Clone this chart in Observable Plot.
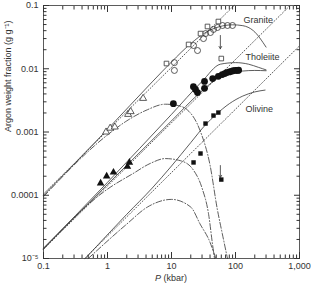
<!DOCTYPE html>
<html><head><meta charset="utf-8">
<script src="https://cdn.jsdelivr.net/npm/d3@7"></script>
<script src="https://cdn.jsdelivr.net/npm/@observablehq/plot@0.6"></script>
<style>
body{margin:0;background:#fff;}
#chart{width:312px;height:286px;}
</style>
</head><body><div id="chart"></div>
<script>
// ---- data: [P (kbar), Ar weight fraction] ----
const graniteSolid = [[0.1,1e-4],[1,1.1e-3],[5,6.2e-3],[10,0.0128],[20,0.025],[35,0.038],[55,0.046],[90,0.0495],[130,0.048],[190,0.040],[300,0.022]];
const graniteDotted = [[0.1,1.05e-4],[95,0.1]];
const graniteDashDot = [[0.1,9.5e-5],[1,9e-4],[2,1.5e-3],[4,2.2e-3],[8,2.75e-3],[12,2.65e-3],[18,2.2e-3],[28,1.05e-3],[40,3e-4],[52,6e-5],[62,2.5e-5],[75,1e-5]];
const tholSolidA = [[0.1,1.45e-5],[1,1.6e-4],[10,1.9e-3],[30,6.3e-3],[58,0.0118],[100,0.0125],[160,0.0118],[230,0.0105],[300,0.0096]];
const tholSolidB = [[0.1,1.45e-5],[10,1.5e-3],[28,4.2e-3],[50,6.8e-3],[80,8.5e-3],[130,9.2e-3],[200,9.4e-3],[300,9.3e-3]];
const tholDotted = [[0.1,1.4e-5],[714,0.1]];
const tholDashDot = [[0.1,1.4e-5],[1,1.25e-4],[2.5,2.2e-4],[4.7,3.2e-4],[8,3.8e-4],[14,3.5e-4],[22,2.5e-4],[30,1.3e-4],[38,5e-5],[44,1.6e-5],[47,1e-5]];
const olivSolid = [[0.45,1e-5],[2,5e-5],[5,1.3e-4],[10,2.9e-4],[20,6.8e-4],[34,1.3e-3],[50,1.9e-3],[80,2.8e-3],[130,3.7e-3],[200,4.3e-3],[290,4.6e-3]];
const olivDotted = [[0.44,1e-5],[1000,0.023]];
const olivDashDot = [[0.5,1e-5],[2,3.5e-5],[4.2,6.5e-5],[10,8.6e-5],[20,6.5e-5],[28,3.5e-5],[40,1.8e-5],[45,1.3e-5],[49,1e-5]];

const graniteTriangles = [[0.95,1.0e-3],[1.1,1.15e-3],[1.3,1.2e-3],[2.1,1.9e-3],[2.3,2.1e-3],[3.6,3.4e-3]];
const graniteCircles = [[11.1,0.0125],[11.1,0.0094],[22.1,0.0233],[25.5,0.0194],[31.6,0.030],[34,0.036],[40.6,0.0374],[45.3,0.0418],[52.3,0.0449],[62.7,0.0483],[75,0.0483],[89.8,0.0483]];
const graniteSquares = [[8.35,0.0121],[18.5,0.0242],[28.4,0.036],[36.5,0.0466],[54,0.0558],[60,0.0145]];
const tholTriangles = [[0.78,1.55e-4],[0.97,2.0e-4],[1.24,2.3e-4],[2.05,2.85e-4],[2.2,3.3e-4]];
const tholCircles = [[10.7,2.8e-3],[22,5.2e-3],[23.7,4.7e-3],[25.5,4.2e-3],[32.8,6.3e-3],[32.8,4.9e-3],[44,7.0e-3],[54,7.6e-3],[62,8.1e-3],[68,8.4e-3],[73,8.7e-3],[80,8.9e-3],[86,9.1e-3],[92,9.3e-3],[100,9.4e-3],[108,9.4e-3],[112,9.5e-3]];
const olivSquares = [[22.1,3.3e-4],[28.4,4.57e-4],[34,1.36e-3],[45.3,1.82e-3],[54,2.03e-3],[60,1.77e-4]];

const arrows = [{x:58,y1:0.0336,y2:0.0207},{x:58,y1:2.95e-4,y2:1.9e-4}];
const labels = [{t:"Granite",x:133,y:0.058},{t:"Tholeiite",x:143,y:0.0155},{t:"Olivine",x:143,y:2.3e-3}];

const xTicks = [0.1,1,10,100,1000];
const xTickLabels = ["0.1","1","10","100","1,000"];
const yTicks = [1e-5,1e-4,1e-3,1e-2,1e-1];
const yTickLabels = ["10\u207B\u2075","0.0001","0.001","0.01","0.1"];

const ink = "#333";
const near = (a, b) => Math.abs(a - b) / b < 1e-6;
const xMinor = d3.scaleLog().domain([0.1,1000]).ticks().filter(v => !xTicks.some(t => near(v, t)));
const yMinor = d3.scaleLog().domain([1e-5,0.1]).ticks().filter(v => !yTicks.some(t => near(v, t)));
const xFmt = d => xTickLabels[xTicks.findIndex(t => near(d, t))];
const yFmt = d => yTickLabels[yTicks.findIndex(t => near(d, t))];

const P = d => d[0], W = d => d[1];
const line = (data, dash) => Plot.line(data, {x: P, y: W, stroke: ink, strokeWidth: 0.8, strokeDasharray: dash, curve: "monotone-x"});
const dashdot = "6,2,1,2";
const dotted = "1,2";
const tickAxis = (f, ticks, anchor, size) => f(ticks, {anchor, tickSize: size, tickFormat: () => "", label: null, stroke: ink});

const plot = Plot.plot({
  width: 312, height: 286,
  marginLeft: 43, marginRight: 13, marginTop: 5, marginBottom: 28,
  style: {fontFamily: "Liberation Sans, Arial, sans-serif", fontSize: "9px", color: ink, background: "#fff"},
  x: {type: "log", domain: [0.1, 1000]},
  y: {type: "log", domain: [1e-5, 0.1]},
  marks: [
    Plot.frame({stroke: ink, strokeWidth: 0.8}),
    tickAxis(Plot.axisX, xTicks, "bottom", -6),
    tickAxis(Plot.axisX, xMinor, "bottom", -3.5),
    tickAxis(Plot.axisX, xTicks, "top", -6),
    tickAxis(Plot.axisX, xMinor, "top", -3.5),
    tickAxis(Plot.axisY, yTicks, "left", -6),
    tickAxis(Plot.axisY, yMinor, "left", -3.5),
    tickAxis(Plot.axisY, yTicks, "right", -6),
    tickAxis(Plot.axisY, yMinor, "right", -3.5),
    Plot.axisX(xTicks, {anchor: "bottom", tickSize: 0, tickPadding: 4, tickFormat: xFmt, label: null}),
    Plot.axisY(yTicks, {anchor: "left", tickSize: 0, tickPadding: 5, tickFormat: yFmt, label: null}),
    // curves
    line(graniteSolid, null), line(graniteDotted, dotted), line(graniteDashDot, dashdot),
    line(tholSolidA, null), line(tholSolidB, null), line(tholDotted, dotted), line(tholDashDot, dashdot),
    line(olivSolid, null), line(olivDotted, dotted), line(olivDashDot, dashdot),
    // data
    Plot.dot(graniteTriangles, {x: P, y: W, symbol: "triangle", r: 2.6, stroke: ink, strokeWidth: 0.8, fill: "white"}),
    Plot.dot(graniteCircles, {x: P, y: W, r: 3, stroke: ink, strokeWidth: 0.8, fill: "none"}),
    Plot.dot(graniteSquares, {x: P, y: W, symbol: "square", r: 2.6, stroke: ink, strokeWidth: 0.8, fill: "white"}),
    Plot.dot(tholTriangles, {x: P, y: W, symbol: "triangle", r: 2.8, fill: "#111", stroke: null}),
    Plot.dot(tholCircles, {x: P, y: W, r: 3.4, fill: "#111", stroke: null}),
    Plot.dot(olivSquares, {x: P, y: W, symbol: "square", r: 2.5, fill: "#111", stroke: null}),
    Plot.arrow(arrows, {x: "x", y1: "y1", y2: "y2", stroke: ink, strokeWidth: 0.8, headLength: 5}),
    Plot.text(labels, {x: "x", y: "y", text: "t", textAnchor: "start", fill: ink, fontSize: 9}),
    Plot.text(["Argon weight fraction (g g\u207B\u00B9)"], {text: d => d, frameAnchor: "left", rotate: -90, dx: -35, fill: ink, fontSize: 9})
  ]
});
document.getElementById("chart").appendChild(plot);
// x-axis title with italic P
const svg = d3.select(plot);
const t = svg.append("text").attr("x", 171).attr("y", 281).attr("text-anchor", "middle")
  .attr("fill", ink).attr("font-size", 9).attr("font-family", "Liberation Sans, Arial, sans-serif");
t.append("tspan").attr("font-style", "italic").text("P");
t.append("tspan").text(" (kbar)");
</script>
</body></html>
